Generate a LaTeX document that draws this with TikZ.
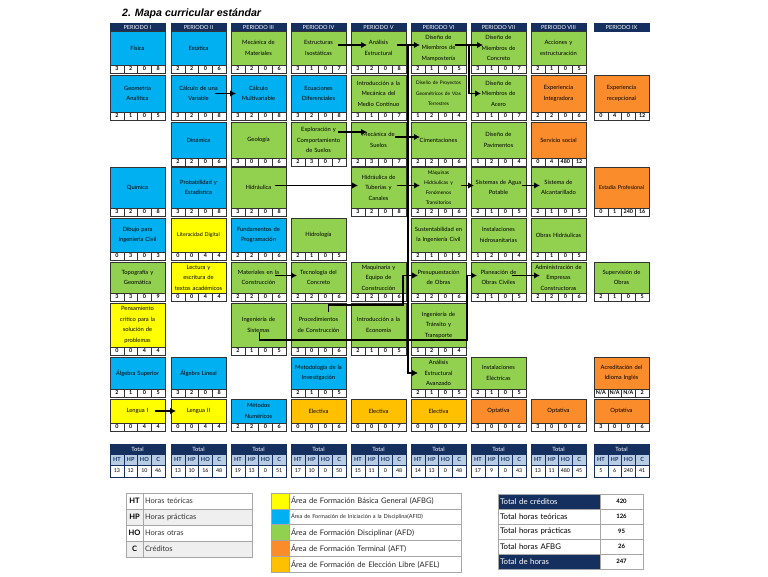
\documentclass[tikz,border=0pt]{standalone}
\usepackage{fontspec}
\setmainfont{Lato}
\newfontfamily\titulofont{Liberation Sans}
\usetikzlibrary{arrows.meta, positioning}

\definecolor{azulmarino}{HTML}{15305F}
\definecolor{azulafid}{HTML}{00B0F0}
\definecolor{verdeafd}{HTML}{92D050}
\definecolor{amarilloafbg}{HTML}{FFFF00}
\definecolor{naranjaaft}{HTML}{FA8C2C}
\definecolor{ambarafel}{HTML}{FFC000}
\definecolor{azulclaro}{HTML}{B8CCE4}
\definecolor{grisborde}{HTML}{A6A6A6}
\definecolor{grisfila}{HTML}{EFEFEF}

% posiciones de columnas y filas (en pt, y hacia abajo)
\def\colx{{110,171,231,291,351,411,471,531,594}}
\def\filatop{{31,75,122,167,218,262,303,357,399}}
\def\filaalto{{34,37,36,41,34,31,44,32,24}}

% materia: nombre, periodo, fila, color, texto, HT, HP, HO, C
\newcommand{\materia}[9]{%
  \pgfmathsetmacro{\mx}{\colx[#2-1]}%
  \pgfmathsetmacro{\my}{\filatop[#3-1]}%
  \pgfmathsetmacro{\mh}{\filaalto[#3-1]}%
  \node[materia, fill=#4, minimum height=\mh pt] (#1) at (\mx,\my) {#5};
  \node[celda, anchor=north west] (#1-ht) at (#1.south west) {#6};
  \node[celda, right=0pt of #1-ht] (#1-hp) {#7};
  \node[celda, right=0pt of #1-hp] (#1-ho) {#8};
  \node[celda, right=0pt of #1-ho] (#1-c) {#9};
}

% encabezado de periodo: nombre, periodo, texto
\newcommand{\periodo}[3]{%
  \pgfmathsetmacro{\mx}{\colx[#2-1]}%
  \node[periodo] (#1) at (\mx,23) {#3};
}

% totales: nombre, periodo, HT, HP, HO, C
\newcommand{\totales}[6]{%
  \pgfmathsetmacro{\mx}{\colx[#2-1]}%
  \node[totalcab] (#1) at (\mx,444) {Total};
  \node[celdacab, anchor=north west] (#1-a) at (#1.south west) {HT};
  \node[celdacab, right=0pt of #1-a] (#1-b) {HP};
  \node[celdacab, right=0pt of #1-b] (#1-c) {HO};
  \node[celdacab, right=0pt of #1-c] (#1-d) {C};
  \node[celdatot, anchor=north west] (#1-e) at (#1-a.south west) {#3};
  \node[celdatot, right=0pt of #1-e] (#1-f) {#4};
  \node[celdatot, right=0pt of #1-f] (#1-g) {#5};
  \node[celdatot, right=0pt of #1-g] (#1-h) {#6};
}

\begin{document}
\begin{tikzpicture}[x=1pt, y=-1pt,
    periodo/.style={draw=azulmarino, fill=azulmarino, text=white, anchor=north west, minimum width=55pt, minimum height=8pt, inner sep=0pt, outer sep=0pt, font=\fontsize{5.6}{5.6}\selectfont},
    materia/.style={draw=black!80, anchor=north west, text width=53pt, inner sep=1pt, outer sep=0pt, align=center, font=\fontsize{5.8}{10.5}\selectfont},
    celda/.style={draw=black!80, fill=white, minimum width=13.75pt, minimum height=8pt, inner sep=0pt, outer sep=0pt, font=\fontsize{5.4}{5.4}\selectfont\bfseries},
    totalcab/.style={draw=azulmarino, fill=azulmarino, text=white, anchor=north west, minimum width=55pt, minimum height=10pt, inner sep=0pt, outer sep=0pt, font=\fontsize{5.8}{5.8}\selectfont},
    celdacab/.style={draw=azulmarino, fill=azulclaro, text=azulmarino, minimum width=13.75pt, minimum height=11pt, inner sep=0pt, outer sep=0pt, font=\fontsize{5.6}{5.6}\selectfont\bfseries},
    celdatot/.style={draw=azulmarino, fill=white, minimum width=13.75pt, minimum height=12pt, inner sep=0pt, outer sep=0pt, font=\fontsize{5.3}{5.3}\selectfont},
    leyclave/.style={draw=grisborde, minimum width=17pt, minimum height=16pt, inner sep=0pt, outer sep=0pt, font=\fontsize{7.5}{8}\selectfont\bfseries},
    leytexto/.style={draw=grisborde, text width=105pt, minimum height=16pt, inner sep=2pt, outer sep=0pt, align=left, text=black!80, font=\fontsize{7.5}{8}\selectfont},
    leycolor/.style={draw=grisborde, minimum width=18pt, minimum height=15.8pt, inner sep=0pt, outer sep=0pt},
    leyarea/.style={draw=grisborde, text width=168pt, minimum height=15.8pt, inner sep=2pt, outer sep=0pt, align=left, text=black!85, font=\fontsize{7.6}{8}\selectfont},
    resumen/.style={draw=grisborde, text width=98pt, minimum height=15pt, inner sep=2pt, outer sep=0pt, align=left, font=\fontsize{7.8}{8}\selectfont},
    valor/.style={draw=grisborde, fill=white, minimum width=43pt, minimum height=15pt, inner sep=0pt, outer sep=0pt, font=\fontsize{6}{7}\selectfont\bfseries},
    flecha/.style={line width=1.3pt, -{Latex[length=6pt,width=6.5pt]}}]

    \useasboundingbox (0,0) rectangle (768,576);

    % Titulo
    \node[anchor=base west, inner sep=0pt, font=\titulofont\fontsize{10.6}{11}\selectfont\bfseries\itshape] (titulo) at (122,16) {2. Mapa curricular estándar};

    % Periodos
    \periodo{p1}{1}{PERIODO I}
    \periodo{p2}{2}{PERIODO II}
    \periodo{p3}{3}{PERIODO III}
    \periodo{p4}{4}{PERIODO IV}
    \periodo{p5}{5}{PERIODO V}
    \periodo{p6}{6}{PERIODO VI}
    \periodo{p7}{7}{PERIODO VII}
    \periodo{p8}{8}{PERIODO VIII}
    \periodo{p9}{9}{PERIODO IX}

    % Periodo I
    \materia{fisica}{1}{1}{azulafid}{Física}{3}{2}{0}{8}
    \materia{geoAn}{1}{2}{azulafid}{Geometría\\Analítica}{2}{1}{0}{5}
    \materia{quimica}{1}{4}{azulafid}{Química}{3}{2}{0}{8}
    \materia{dibujo}{1}{5}{azulafid}{Dibujo para\\Ingeniería Civil}{0}{3}{0}{3}
    \materia{topo}{1}{6}{verdeafd}{Topografía y\\Geomática}{3}{3}{0}{9}
    \materia{pensam}{1}{7}{amarilloafbg}{Pensamiento\\crítico para la\\solución de\\problemas}{0}{0}{4}{4}
    \materia{algSup}{1}{8}{azulafid}{Álgebra Superior}{2}{1}{0}{5}
    \materia{lenI}{1}{9}{amarilloafbg}{Lengua I}{0}{0}{4}{4}

    % Periodo II
    \materia{estatica}{2}{1}{azulafid}{Estática}{2}{2}{0}{6}
    \materia{calcVar}{2}{2}{azulafid}{Cálculo de una\\Variable}{3}{2}{0}{8}
    \materia{dinamica}{2}{3}{azulafid}{Dinámica}{2}{2}{0}{6}
    \materia{probab}{2}{4}{azulafid}{Probabilidad y\\Estadística}{3}{2}{0}{8}
    \materia{literac}{2}{5}{amarilloafbg}{\fontsize{5.3}{10}\selectfont Literacidad Digital}{0}{0}{4}{4}
    \materia{lectura}{2}{6}{amarilloafbg}{Lectura y\\escritura de\\textos académicos}{0}{0}{4}{4}
    \materia{algLin}{2}{8}{azulafid}{Álgebra Lineal}{3}{2}{0}{8}
    \materia{lenII}{2}{9}{amarilloafbg}{Lengua II}{0}{0}{4}{4}

    % Periodo III
    \materia{mecMat}{3}{1}{verdeafd}{Mecánica de\\Materiales}{2}{2}{0}{6}
    \materia{calcMul}{3}{2}{azulafid}{Cálculo\\Multivariable}{3}{2}{0}{8}
    \materia{geologia}{3}{3}{verdeafd}{Geología}{3}{0}{0}{6}
    \materia{hidraul}{3}{4}{verdeafd}{Hidráulica}{3}{2}{0}{8}
    \materia{fundProg}{3}{5}{azulafid}{Fundamentos de\\Programación}{2}{2}{0}{6}
    \materia{matCons}{3}{6}{verdeafd}{Materiales en la\\Construcción}{2}{2}{0}{6}
    \materia{ingSis}{3}{7}{verdeafd}{Ingeniería de\\Sistemas}{2}{1}{0}{5}
    \materia{metNum}{3}{9}{azulafid}{Métodos\\Numéricos}{2}{2}{0}{6}

    % Periodo IV
    \materia{estIso}{4}{1}{verdeafd}{Estructuras\\Isostáticas}{3}{1}{0}{7}
    \materia{ecuDif}{4}{2}{azulafid}{Ecuaciones\\Diferenciales}{3}{2}{0}{8}
    \materia{explor}{4}{3}{verdeafd}{Exploración y\\Comportamiento\\de Suelos}{2}{3}{0}{7}
    \materia{hidrol}{4}{5}{verdeafd}{Hidrología}{2}{1}{0}{5}
    \materia{tecCon}{4}{6}{verdeafd}{Tecnología del\\Concreto}{2}{2}{0}{6}
    \materia{procCons}{4}{7}{verdeafd}{Procedimientos\\de Construcción}{3}{0}{0}{6}
    \materia{metInv}{4}{8}{azulafid}{Metodología de la\\Investigación}{2}{1}{0}{5}
    \materia{elecIV}{4}{9}{ambarafel}{Electiva}{0}{0}{0}{6}

    % Periodo V
    \materia{anEst}{5}{1}{verdeafd}{Análisis\\Estructural}{3}{2}{0}{8}
    \materia{medCont}{5}{2}{verdeafd}{Introducción a la\\Mecánica del\\Medio Continuo}{3}{1}{0}{7}
    \materia{mecSue}{5}{3}{verdeafd}{Mecánica de\\Suelos}{2}{3}{0}{7}
    \materia{hidTub}{5}{4}{verdeafd}{Hidráulica de\\Tuberías y\\Canales}{3}{2}{0}{8}
    \materia{maqEq}{5}{6}{verdeafd}{Maquinaria y\\Equipo de\\Construcción}{2}{2}{0}{6}
    \materia{intEco}{5}{7}{verdeafd}{Introducción a la\\Economía}{2}{1}{0}{5}
    \materia{elecV}{5}{9}{ambarafel}{Electiva}{0}{0}{0}{7}

    % Periodo VI
    \materia{mamp}{6}{1}{verdeafd}{Diseño de\\Miembros de\\Mampostería}{2}{1}{0}{5}
    \materia{vias}{6}{2}{verdeafd}{\fontsize{4.8}{10.5}\selectfont Diseño de Proyectos\\Geométricos de Vías\\Terrestres}{1}{2}{0}{4}
    \materia{ciment}{6}{3}{verdeafd}{Cimentaciones}{2}{2}{0}{6}
    \materia{maqHid}{6}{4}{verdeafd}{\fontsize{5}{10}\selectfont Máquinas\\Hidráulicas y\\Fenómenos\\Transitorios}{2}{2}{0}{6}
    \materia{susten}{6}{5}{verdeafd}{Sustentabilidad en\\la Ingeniería Civil}{2}{1}{0}{5}
    \materia{presup}{6}{6}{verdeafd}{Presupuestación\\de Obras}{2}{2}{0}{6}
    \materia{transito}{6}{7}{verdeafd}{Ingeniería de\\Tránsito y\\Transporte}{1}{2}{0}{4}
    \materia{anAv}{6}{8}{verdeafd}{Análisis\\Estructural\\Avanzado}{2}{1}{0}{5}
    \materia{elecVI}{6}{9}{ambarafel}{Electiva}{0}{0}{0}{7}

    % Periodo VII
    \materia{concreto}{7}{1}{verdeafd}{Diseño de\\Miembros de\\Concreto}{3}{1}{0}{7}
    \materia{acero}{7}{2}{verdeafd}{Diseño de\\Miembros de\\Acero}{3}{1}{0}{7}
    \materia{pavim}{7}{3}{verdeafd}{Diseño de\\Pavimentos}{1}{2}{0}{4}
    \materia{aguaPot}{7}{4}{verdeafd}{Sistemas de Agua\\Potable}{2}{1}{0}{5}
    \materia{instHid}{7}{5}{verdeafd}{Instalaciones\\hidrosanitarias}{1}{2}{0}{4}
    \materia{planea}{7}{6}{verdeafd}{Planeación de\\Obras Civiles}{2}{1}{0}{5}
    \materia{instElec}{7}{8}{verdeafd}{Instalaciones\\Eléctricas}{2}{1}{0}{5}
    \materia{optVII}{7}{9}{naranjaaft}{Optativa}{3}{0}{0}{6}

    % Periodo VIII
    \materia{acciones}{8}{1}{verdeafd}{Acciones y\\estructuración}{2}{1}{0}{5}
    \materia{expInt}{8}{2}{naranjaaft}{Experiencia\\Integradora}{2}{2}{0}{6}
    \materia{servSoc}{8}{3}{naranjaaft}{Servicio social}{0}{4}{480}{12}
    \materia{alcant}{8}{4}{verdeafd}{Sistema de\\Alcantarillado}{2}{1}{0}{5}
    \materia{obrasHid}{8}{5}{verdeafd}{Obras Hidráulicas}{2}{1}{0}{5}
    \materia{admEmp}{8}{6}{verdeafd}{Administración de\\Empresas\\Constructoras}{2}{2}{0}{6}
    \materia{optVIII}{8}{9}{naranjaaft}{Optativa}{3}{0}{0}{6}

    % Periodo IX
    \materia{expRec}{9}{2}{naranjaaft}{Experiencia\\recepcional}{0}{4}{0}{12}
    \materia{estadia}{9}{4}{naranjaaft}{\fontsize{5.4}{10}\selectfont Estadía Profesional}{0}{1}{240}{16}
    \materia{superv}{9}{6}{verdeafd}{Supervisión de\\Obras}{2}{1}{0}{5}
    \materia{ingles}{9}{8}{naranjaaft}{Acreditación del\\Idioma Inglés}{N/A}{N/A}{N/A}{2}
    \materia{optIX}{9}{9}{naranjaaft}{Optativa}{3}{0}{0}{6}

    % Totales
    \totales{t1}{1}{13}{12}{10}{46}
    \totales{t2}{2}{13}{10}{16}{48}
    \totales{t3}{3}{19}{13}{0}{51}
    \totales{t4}{4}{17}{10}{0}{50}
    \totales{t5}{5}{15}{11}{0}{48}
    \totales{t6}{6}{14}{13}{0}{48}
    \totales{t7}{7}{17}{9}{0}{43}
    \totales{t8}{8}{13}{11}{480}{45}
    \totales{t9}{9}{5}{6}{240}{41}

    % Arrows
    \draw[flecha] ([xshift=-11pt]calcVar.east) -- ([xshift=5pt]calcMul.west);
    \draw[flecha] ([xshift=-8pt,yshift=3pt]estIso.east) -- ([xshift=16pt,yshift=3pt]anEst.west);
    \draw[flecha] ([xshift=-9pt,yshift=3pt]anEst.east) -- ([xshift=9pt,yshift=3pt]mamp.west);
    \draw[flecha] ([xshift=-9pt,yshift=3pt]anEst.east) -- ++(11,0) |- ([xshift=7pt]anAv.west);
    \draw[flecha] ([xshift=-11pt,yshift=3pt]mamp.east) -- ([xshift=12pt,yshift=3pt]concreto.west);
    \draw[flecha] ([xshift=-11pt,yshift=3pt]mamp.east) -- ++(14,0) |- ([xshift=10pt]acero.west);
    \draw[flecha] ([xshift=-8pt,yshift=8pt]explor.east) -- ([xshift=16pt,yshift=8pt]mecSue.west);
    \draw[flecha] ([xshift=-11pt,yshift=3pt]mecSue.east) -- ([xshift=9pt,yshift=3pt]ciment.west);
    \draw[flecha] ([xshift=-11pt,yshift=2pt]hidraul.east) -- ([xshift=7pt,yshift=2pt]hidTub.west);
    \draw[flecha] ([xshift=-9pt,yshift=2pt]hidTub.east) -- ([xshift=9pt,yshift=2pt]maqHid.west);
    \draw[flecha] ([xshift=-5pt,yshift=2pt]maqHid.east) -- ([xshift=3pt,yshift=2pt]aguaPot.west);
    \draw[flecha] ([xshift=-4pt,yshift=2pt]aguaPot.east) -- ([xshift=9pt,yshift=2pt]alcant.west);
    \draw[flecha] ([xshift=-11pt,yshift=2pt]matCons.east) -- ([xshift=6pt,yshift=2pt]tecCon.west);
    \draw[flecha] ([shift={(10,9)}]procCons.north) -- ++(0,-7) -| ([xshift=-8pt,yshift=2pt]presup.west) -- ([xshift=7pt,yshift=2pt]presup.west);
    \draw[flecha] ([shift={(1,7)}]ingSis.center) -- ++(0,8) -| ([xshift=-4pt,yshift=2pt]planea.west) -- ([xshift=6pt,yshift=2pt]planea.west);
    \draw[flecha] ([xshift=-14pt,yshift=2pt]planea.east) -- ([xshift=9pt,yshift=2pt]admEmp.west);
    \draw[flecha] ([xshift=-10pt]lenI.east) -- ([xshift=5pt]lenII.west);

    % Leyenda de horas
    \node[leyclave, anchor=north west] (kHT) at (126,493) {HT};
    \node[leytexto, right=0pt of kHT] (tHT) {Horas teóricas};
    \node[leyclave, fill=grisfila, below=0pt of kHT] (kHP) {HP};
    \node[leytexto, fill=grisfila, right=0pt of kHP] (tHP) {Horas prácticas};
    \node[leyclave, below=0pt of kHP] (kHO) {HO};
    \node[leytexto, right=0pt of kHO] (tHO) {Horas otras};
    \node[leyclave, fill=grisfila, below=0pt of kHO] (kC) {C};
    \node[leytexto, fill=grisfila, right=0pt of kC] (tC) {Créditos};

    % Leyenda de areas
    \node[leycolor, fill=amarilloafbg, anchor=north west] (cAFBG) at (271,493) {};
    \node[leyarea, right=0pt of cAFBG] (aAFBG) {Área de Formación Básica General (AFBG)};
    \node[leycolor, fill=azulafid, below=0pt of cAFBG] (cAFID) {};
    \node[leyarea, right=0pt of cAFID, font=\fontsize{5.6}{6}\selectfont] (aAFID) {Área de Formación de Iniciación a la Disciplina(AFID)};
    \node[leycolor, fill=verdeafd, below=0pt of cAFID] (cAFD) {};
    \node[leyarea, right=0pt of cAFD] (aAFD) {Área de Formación Disciplinar (AFD)};
    \node[leycolor, fill=naranjaaft, below=0pt of cAFD] (cAFT) {};
    \node[leyarea, right=0pt of cAFT] (aAFT) {Área de Formación Terminal (AFT)};
    \node[leycolor, fill=ambarafel, below=0pt of cAFT] (cAFEL) {};
    \node[leyarea, right=0pt of cAFEL] (aAFEL) {Área de Formación de Elección Libre (AFEL)};

    % Resumen de totales
    \node[resumen, fill=azulmarino, text=white, anchor=north west] (rCred) at (498,494) {Total de créditos};
    \node[valor, right=0pt of rCred] (vCred) {420};
    \node[resumen, below=0pt of rCred] (rTeo) {Total horas teóricas};
    \node[valor, right=0pt of rTeo] (vTeo) {126};
    \node[resumen, below=0pt of rTeo] (rPra) {Total horas prácticas};
    \node[valor, right=0pt of rPra] (vPra) {95};
    \node[resumen, below=0pt of rPra] (rAfbg) {Total horas AFBG};
    \node[valor, right=0pt of rAfbg] (vAfbg) {26};
    \node[resumen, fill=azulmarino, text=white, below=0pt of rAfbg] (rHoras) {Total de horas};
    \node[valor, right=0pt of rHoras] (vHoras) {247};
\end{tikzpicture}
\end{document}
